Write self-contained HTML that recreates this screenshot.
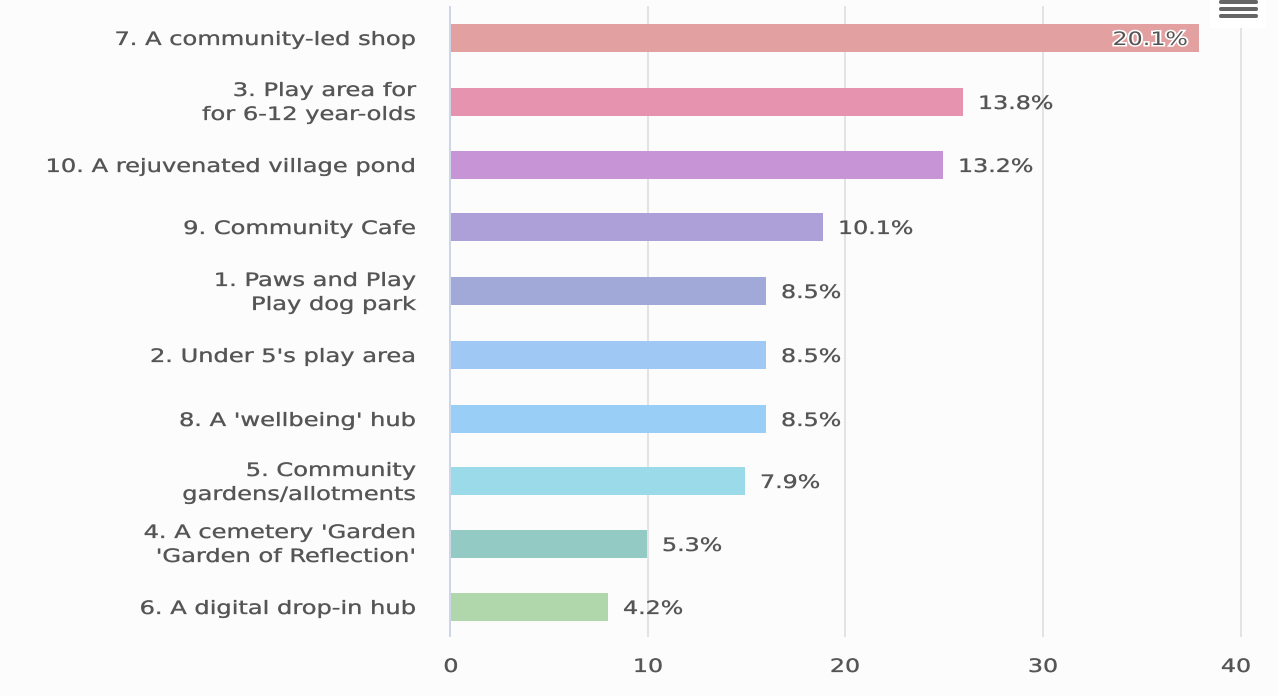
<!DOCTYPE html><html><head><style>html,body{margin:0;padding:0;background:#fcfcfc;}svg{display:block}text{font-family:"DejaVu Sans",sans-serif;fill:#555;font-size:19px;stroke:#555;stroke-width:0.35px}</style></head><body>
<svg width="1278" height="696" xmlns="http://www.w3.org/2000/svg">
<rect width="1278" height="696" fill="#fcfcfc"/>
<g stroke="#e3e3e3" stroke-width="2">
<line x1="648" y1="6" x2="648" y2="637"/><line x1="845" y1="6" x2="845" y2="637"/><line x1="1043" y1="6" x2="1043" y2="637"/><line x1="1241" y1="6" x2="1241" y2="637"/></g>
<line x1="450" y1="6" x2="450" y2="637" stroke="#ccd6eb" stroke-width="2"/>
<rect x="1210" y="0" width="56" height="28" fill="#fff"/>
<g stroke="#666" stroke-width="4" stroke-linecap="round"><line x1="1221" y1="2" x2="1256" y2="2"/><line x1="1221" y1="9" x2="1256" y2="9"/><line x1="1221" y1="16" x2="1256" y2="16"/></g>
<g>
<rect x="451" y="24" width="748" height="28" fill="#e3a0a0"/>
<rect x="451" y="88" width="512" height="28" fill="#e693b0"/>
<rect x="451" y="151" width="492" height="28" fill="#c795d6"/>
<rect x="451" y="213" width="372" height="28" fill="#ad9fd8"/>
<rect x="451" y="277" width="315" height="28" fill="#a1a9d9"/>
<rect x="451" y="341" width="315" height="28" fill="#9fc8f4"/>
<rect x="451" y="405" width="315" height="28" fill="#99cff6"/>
<rect x="451" y="467" width="294" height="28" fill="#9bdbe9"/>
<rect x="451" y="530" width="196" height="28" fill="#93cbc4"/>
<rect x="451" y="593" width="157" height="28" fill="#b0d7ac"/>
</g>
<g>
<text x="1188" y="45" text-anchor="end" transform="matrix(1.25 0 0 1 -297 0)" style="stroke:#fff;stroke-width:3px;paint-order:stroke">20.1%</text>
<text x="978" y="109" transform="matrix(1.25 0 0 1 -244.5 0)">13.8%</text>
<text x="958" y="172" transform="matrix(1.25 0 0 1 -239.5 0)">13.2%</text>
<text x="838" y="234" transform="matrix(1.25 0 0 1 -209.5 0)">10.1%</text>
<text x="781" y="298" transform="matrix(1.25 0 0 1 -195.25 0)">8.5%</text>
<text x="781" y="362" transform="matrix(1.25 0 0 1 -195.25 0)">8.5%</text>
<text x="781" y="426" transform="matrix(1.25 0 0 1 -195.25 0)">8.5%</text>
<text x="760" y="488" transform="matrix(1.25 0 0 1 -190 0)">7.9%</text>
<text x="662" y="551" transform="matrix(1.25 0 0 1 -165.5 0)">5.3%</text>
<text x="623" y="614" transform="matrix(1.25 0 0 1 -155.75 0)">4.2%</text>
</g>
<g text-anchor="end" transform="matrix(1.27 0 0 1 -112.32 0)">
<text x="416" y="45">7. A community-led shop</text>
<text x="416" y="96">3. Play area for</text><text x="416" y="120">for 6-12 year-olds</text>
<text x="416" y="172">10. A rejuvenated village pond</text>
<text x="416" y="234">9. Community Cafe</text>
<text x="416" y="286">1. Paws and Play</text><text x="416" y="310">Play dog park</text>
<text x="416" y="362">2. Under 5's play area</text>
<text x="416" y="426">8. A 'wellbeing' hub</text>
<text x="416" y="476">5. Community</text><text x="416" y="500">gardens/allotments</text>
<text x="416" y="538">4. A cemetery 'Garden</text><text x="416" y="562">'Garden of Reflection'</text>
<text x="416" y="614">6. A digital drop-in hub</text>
</g>
<g text-anchor="middle">
<text x="451" y="672" transform="matrix(1.25 0 0 1 -112.75 0)">0</text>
<text x="648" y="672" transform="matrix(1.25 0 0 1 -162 0)">10</text>
<text x="845" y="672" transform="matrix(1.25 0 0 1 -211.25 0)">20</text>
<text x="1043" y="672" transform="matrix(1.25 0 0 1 -260.75 0)">30</text>
<text x="1236" y="672" transform="matrix(1.25 0 0 1 -309 0)">40</text>
</g>
</svg></body></html>
